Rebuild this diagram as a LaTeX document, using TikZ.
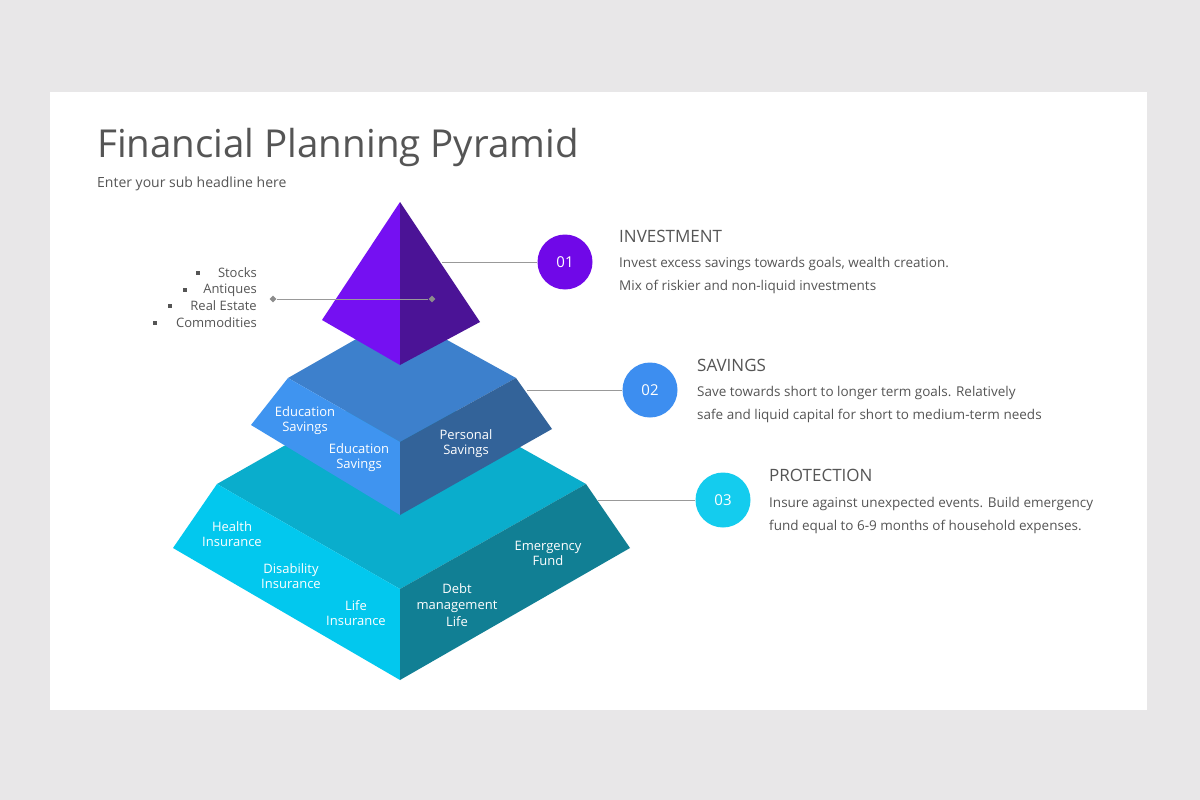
\documentclass[tikz,border=0pt]{standalone}
\usepackage{fontspec}
\setmainfont{Open Sans}
\usetikzlibrary{shapes.geometric}
\definecolor{txt}{HTML}{555555}\definecolor{bgc}{HTML}{E8E7E8}
\definecolor{pA}{HTML}{7510F2}\definecolor{pB}{HTML}{4B1396}
\definecolor{mT}{HTML}{3D80CC}\definecolor{mL}{HTML}{3F94F0}\definecolor{mR}{HTML}{336399}
\definecolor{bT}{HTML}{0AADCC}\definecolor{bL}{HTML}{02C8EE}\definecolor{bR}{HTML}{117F94}
\definecolor{c1}{HTML}{7008E8}\definecolor{c2}{HTML}{3D8EF0}\definecolor{c3}{HTML}{14CCEE}
\begin{document}
\begin{tikzpicture}[x=1pt,y=-1pt,
  lab/.style={text=white,font=\fontsize{13}{15}\selectfont,align=center},
  circ/.style={circle,minimum size=55pt,inner sep=0pt,text=white,font=\fontsize{15}{15}\selectfont},
  head/.style={anchor=base west,inner sep=0pt,text=txt,font=\fontsize{17}{17}\selectfont},
  body/.style={anchor=north west,inner sep=0pt,text=txt,font=\fontsize{13.5}{23}\selectfont,align=left},
  conn/.style={draw=gray!80,line width=1pt},
  dia/.style={diamond,fill=gray!90,minimum size=7pt,inner sep=0pt}]
\fill[bgc] (0,0) rectangle (1200,800);
\fill[white] (50,92) rectangle (1147,710);
\node[anchor=base west,text=txt,font=\fontsize{38.5}{38.5}\selectfont,inner sep=0pt] (title) at (97,157) {Financial Planning Pyramid};
\node[anchor=base west,text=txt,font=\fontsize{14}{14}\selectfont,inner sep=0pt] (sub) at (97,187) {Enter your sub headline here};
% bottom tier
\fill[bT] (217,484) -- (400,380) -- (586,484) -- (400,589) -- cycle;
\fill[bL] (217,484) -- (400,589) -- (400,680) -- (173,548) -- cycle;
\fill[bR] (400,589) -- (586,484) -- (630,548) -- (400,680) -- cycle;
% middle tier
\fill[mT] (288,378) -- (400,314) -- (516,378) -- (400,442) -- cycle;
\fill[mL] (288,378) -- (400,442) -- (400,515) -- (251,425) -- cycle;
\fill[mR] (400,442) -- (516,378) -- (552,429) -- (400,515) -- cycle;
% top
\fill[pA] (400,202) -- (322,320) -- (400,365) -- cycle;
\fill[pB] (400,202) -- (480,322) -- (400,365) -- cycle;
% labels
\node[lab] (l1) at (305,421) {Education\\Savings};
\node[lab] (l2) at (359,458) {Education\\Savings};
\node[lab] (l3) at (466,444) {Personal\\Savings};
\node[lab] (l4) at (232,534) {Health\\Insurance};
\node[lab] (l5) at (291,576) {Disability\\Insurance};
\node[lab] (l6) at (356,613) {Life\\Insurance};
\node[lab,font=\fontsize{13}{16.5}\selectfont] (l7) at (457,605) {Debt\\management\\Life};
\node[lab] (l8) at (548,553) {Emergency\\Fund};
% circles
\coordinate (a1) at (442,262); \coordinate (a2) at (527,390); \coordinate (a3) at (598,500);
\node[circ,fill=c1] (n1) at (565,262) {01};
\node[circ,fill=c2] (n2) at (650,390) {02};
\node[circ,fill=c3] (n3) at (723,500) {03};
\draw[conn] (a1) -- (n1); \draw[conn] (a2) -- (n2); \draw[conn] (a3) -- (n3);
\node[head] (h1) at (619,242) {INVESTMENT};
\node[body] (b1) at (619,257) {Invest excess savings towards goals, wealth creation.\\Mix of riskier and non-liquid investments};
\node[head] (h2) at (697,371) {SAVINGS};
\node[body] (b2) at (697,386) {Save towards short to longer term goals. Relatively\\safe and liquid capital for short to medium-term needs};
\node[head] (h3) at (769,481) {PROTECTION};
\node[body] (b3) at (769,497) {Insure against unexpected events. Build emergency\\fund equal to 6-9 months of household expenses.};
% bullets
\node[dia] (d1) at (273,299) {}; \node[dia] (d2) at (432,299) {};
\draw[conn] (d1) -- (d2);
\foreach \t/\y/\bx [count=\i] in {Stocks/273/198,Antiques/290/185,Real Estate/306/170,Commodities/323/155}{
  \node[anchor=east,text=txt,font=\fontsize{13}{13}\selectfont,inner sep=0pt] (bl\i) at (257,\y) {\t};
  \fill[txt] (\bx-2,\y-2) rectangle (\bx+2,\y+2);
}
\end{tikzpicture}
\end{document}
